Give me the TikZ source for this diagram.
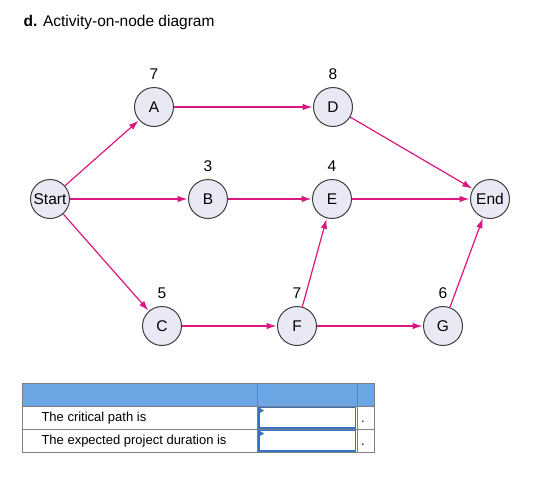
\documentclass[tikz,border=0pt]{standalone}
\usepackage{fontspec}
\setmainfont{Liberation Sans}
\usepackage{xcolor}
\usetikzlibrary{arrows.meta,positioning}

\definecolor{arrowpink}{RGB}{218,22,128}
\definecolor{nodefill}{RGB}{232,233,244}
\definecolor{headblue}{RGB}{108,166,228}
\definecolor{boxblue}{RGB}{52,114,196}
\definecolor{gridgray}{RGB}{128,128,128}

\tikzset{
  activity/.style={circle,draw=black!75,fill=nodefill,line width=1pt,
    minimum size=39pt,inner sep=0pt,font=\fontsize{15.5}{17}\selectfont},
  dur/.style={label={[label distance=4pt,font=\fontsize{15.5}{17}\selectfont]above:#1}},
  link/.style={-{Latex[length=10pt,width=6.5pt]},draw=arrowpink,line width=1.2pt,shorten >=0.5pt},
  celltext/.style={anchor=west,font=\fontsize{13}{15}\selectfont}
}

\begin{document}
\begin{tikzpicture}[x=1pt,y=-1pt]
  \useasboundingbox (0,0) rectangle (550,490);

  % heading
  \node[anchor=west,font=\fontsize{15.5}{17}\selectfont] (title) at (20,22)
    {\textbf{d.} Activity-on-node diagram};

  % activities
  \node[activity] (start) at (50,199) {Start};
  \node[activity,dur=7] (A) at (154,107) {A};
  \node[activity,dur=8] (D) at (333,107) {D};
  \node[activity,dur=3] (B) at (208,199) {B};
  \node[activity,dur=4] (E) at (332,199) {E};
  \node[activity] (end) at (490,199) {End};
  \node[activity,dur=5] (C) at (162,326) {C};
  \node[activity,dur=7] (F) at (297,326) {F};
  \node[activity,dur=6] (G) at (443,326) {G};

  % precedence links
  \draw[link] (start) -- (A);
  \draw[link] (start) -- (B);
  \draw[link] (start) -- (C);
  \draw[link] (A) -- (D);
  \draw[link] (B) -- (E);
  \draw[link] (C) -- (F);
  \draw[link] (F) -- (E);
  \draw[link] (F) -- (G);
  \draw[link] (D) -- (end);
  \draw[link] (E) -- (end);
  \draw[link] (G) -- (end);

  % answer table
  \fill[headblue] (22,383) rectangle (374,406);
  \draw[gridgray,line width=1pt] (22,383) rectangle (374,452);
  \draw[gridgray,line width=1pt] (22,406) -- (374,406);
  \draw[gridgray,line width=1pt] (22,429) -- (374,429);
  \draw[gridgray,line width=1pt] (257,383) -- (257,452);
  \draw[gridgray,line width=1pt] (357,383) -- (357,452);
  \draw[boxblue,line width=1.4pt] (259,407.5) rectangle (355.5,428);
  \draw[boxblue,line width=1.4pt] (259,430.5) rectangle (355.5,451);
  \fill[boxblue] (259,407.5) -- (264,410.5) -- (259,413.5) -- cycle;
  \fill[boxblue] (259,430.5) -- (264,433.5) -- (259,436.5) -- cycle;
  \node[celltext] (path) at (38,418) {The critical path is};
  \node[celltext] (time) at (38,441) {The expected project duration is};
  \node[celltext,inner sep=0pt] (dota) at (361,422) {.};
  \node[celltext,inner sep=0pt] (dotb) at (361,445) {.};
\end{tikzpicture}
\end{document}
